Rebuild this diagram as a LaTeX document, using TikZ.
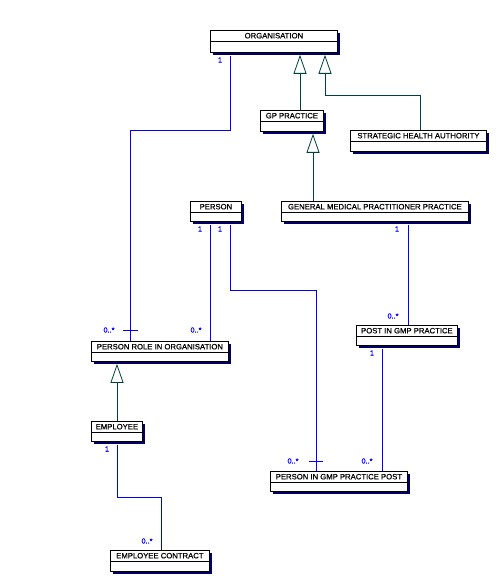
\documentclass[tikz,border=0pt]{standalone}
\usepackage{fontspec}
\setmainfont{Liberation Sans}
\newfontfamily\clsfont[FakeBold=0.6]{Liberation Sans}
\usetikzlibrary{arrows.meta,shadows,calc}
\definecolor{umlblue}{RGB}{0,0,255}
\definecolor{gencol}{RGB}{0,64,64}
\definecolor{shadowcol}{RGB}{0,0,102}
\tikzset{
  clsbox/.style={draw=black, fill=white, line width=0.8pt, inner sep=0pt,
    drop shadow={shadow xshift=3pt, shadow yshift=-3pt, fill=shadowcol, opacity=1}},
  clstext/.style={font=\clsfont\fontsize{7.7}{8}\selectfont, inner sep=0pt},
  mult/.style={font=\clsfont\fontsize{7.3}{8}\selectfont, text=umlblue, inner sep=0pt},
  assoc/.style={draw=umlblue, line width=0.8pt},
  gen/.style={draw=gencol, line width=0.8pt, -{Triangle[fill=white, length=19pt, width=13pt, line width=0.8pt]}},
}
\newcommand\umlclass[6]{%
  \node[clsbox, anchor=north west, minimum width={((#4)-(#2))*1pt}, minimum height={((#5)-(#3))*1pt}] (#1) at (#2,#3) {};
  \draw[line width=0.8pt] ([yshift=-11pt]#1.north west) -- ([yshift=-11pt]#1.north east);
  \node[clstext] (#1-t) at ([yshift=-5.7pt]#1.north) {#6};
}
\begin{document}
\begin{tikzpicture}[x=1pt, y=-1pt]
\fill[white] (0,0) rectangle (500,585);
\useasboundingbox (0,0) rectangle (500,585);

\umlclass{org}{210}{30}{337}{52}{ORGANISATION}
\umlclass{gp}{260}{110}{323}{131}{GP PRACTICE}
\umlclass{sha}{350}{130}{486}{151}{STRATEGIC HEALTH AUTHORITY}
\umlclass{person}{190}{201}{241}{221}{PERSON}
\umlclass{gmpp}{281}{201}{468}{221}{GENERAL MEDICAL PRACTITIONER PRACTICE}
\umlclass{post}{356}{325}{457}{345}{POST IN GMP PRACTICE}
\umlclass{pro}{91}{341}{228}{361}{PERSON ROLE IN ORGANISATION}
\umlclass{emp}{91}{421}{142}{441}{EMPLOYEE}
\umlclass{ec}{110}{550}{209}{571}{EMPLOYEE CONTRACT}
\umlclass{pigpp}{270}{471}{407}{491}{PERSON IN GMP PRACTICE POST}

% generalisations
\coordinate (g1) at (325,95);
\draw[gen] ([xshift=40pt]gp.north west) -- ([xshift=90pt,yshift=-2pt]org.south west);
\draw[gen] ([xshift=70pt]sha.north west) |- (g1) -- ([xshift=115pt,yshift=-2pt]org.south west);
\draw[gen] ([xshift=32pt]gmpp.north west) -- ([xshift=53pt,yshift=-2pt]gp.south west);
\draw[gen] ([xshift=26pt]emp.north west) -- ([xshift=26pt,yshift=-2pt]pro.south west);

% associations
\coordinate (c1) at (130,130);
\coordinate (c3) at (316,290);
\coordinate (c4) at (161,497);
\draw[assoc] ([xshift=20pt,yshift=-3pt]org.south west) |- (c1) -- (c1 |- pro.north);
\draw[assoc] ([xshift=20pt,yshift=-3pt]person.south west) coordinate (p1) -- (p1 |- pro.north);
\draw[assoc] ([xshift=40pt,yshift=-3pt]person.south west) |- (c3) -- (c3 |- pigpp.north);
\draw[assoc] ([xshift=127pt,yshift=-3pt]gmpp.south west) coordinate (p2) -- (p2 |- post.north);
\draw[assoc] ([xshift=26pt,yshift=-3pt]post.south west) coordinate (p3) -- (p3 |- pigpp.north);
\draw[assoc] ([xshift=26pt,yshift=-3pt]emp.south west) |- (c4) -- (c4 |- ec.north);

% bars
\draw[assoc] ($(c1 |- pro.north)+(-7,-11)$) -- ++(15,0);
\draw[assoc] ($(c3 |- pigpp.north)+(-7,-10)$) -- ++(14,0);

% multiplicities
\node[mult] (m1) at (220,60) {1};
\node[mult] (m2) at (200,229) {1};
\node[mult] (m3) at (220,229) {1};
\node[mult] (m4) at (397,229) {1};
\node[mult] (m5) at (393,316) {0..*};
\node[mult] (m6) at (109,330) {0..*};
\node[mult] (m7) at (196,330) {0..*};
\node[mult] (m8) at (372,353) {1};
\node[mult] (m9) at (107,449) {1};
\node[mult] (m10) at (293,461) {0..*};
\node[mult] (m11) at (367,461) {0..*};
\node[mult] (m12) at (147,541) {0..*};
\end{tikzpicture}
\end{document}
